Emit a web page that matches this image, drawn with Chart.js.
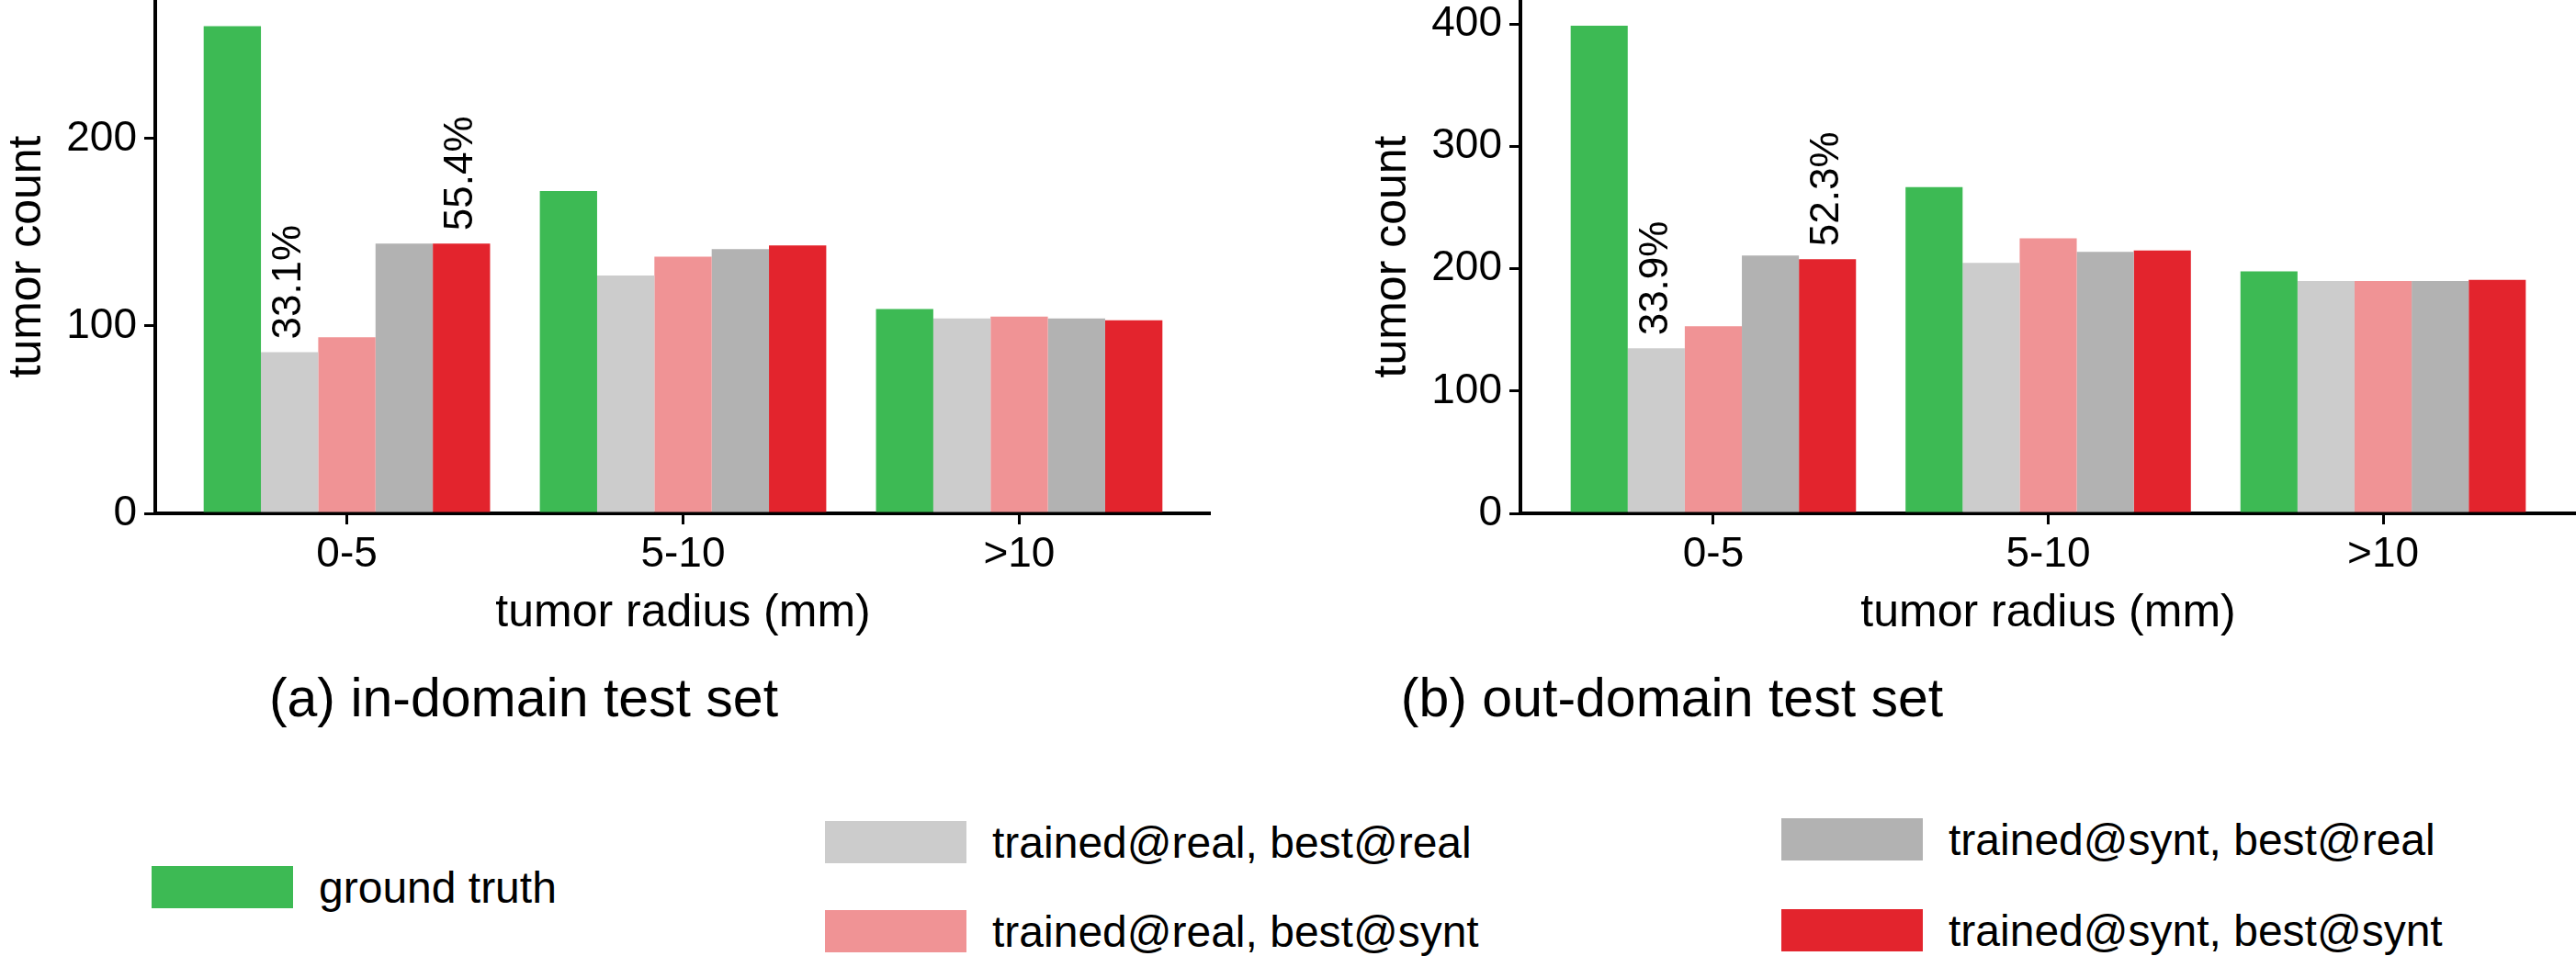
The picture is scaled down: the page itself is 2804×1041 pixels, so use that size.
<!DOCTYPE html>
<html><head><meta charset="utf-8">
<script src="https://cdn.jsdelivr.net/npm/chart.js@4"></script>
<style>
body{margin:0;width:2804px;height:1041px;background:#fff;position:relative;overflow:hidden;font-family:"Liberation Sans",Arial,sans-serif;}
.box{position:absolute;top:0;height:700px;}
.t{position:absolute;white-space:nowrap;color:#000;}
.sw{position:absolute;width:154px;height:46px;}
</style></head><body>
<div class="box" style="left:0;width:1318px"><canvas id="c1"></canvas></div>
<div class="box" style="left:1486px;width:1318px"><canvas id="c2"></canvas></div>
<div class="t" style="left:570px;top:760px;transform:translate(-50%,-50%);font-size:59px">(a) in-domain test set</div>
<div class="t" style="left:1820px;top:760px;transform:translate(-50%,-50%);font-size:59px">(b) out-domain test set</div>
<div id="legend"></div>
<script>
const categories = ['0-5', '5-10', '>10'];
const seriesNames = ['ground truth', 'trained@real, best@real', 'trained@real, best@synt', 'trained@synt, best@real', 'trained@synt, best@synt'];
const colors = ['#3dba54', '#cccccc', '#f09395', '#b2b2b2', '#e3242d'];
// in-domain
const inGT = [260, 172, 109];
const inRealReal = [86, 127, 104];
const inRealSynt = [94, 137, 105];
const inSyntReal = [144, 141, 104];
const inSyntSynt = [144, 143, 103];
// out-domain
const outGT = [399, 267, 198];
const outRealReal = [135, 205, 190];
const outRealSynt = [153, 225, 190];
const outSyntReal = [211, 214, 190];
const outSyntSynt = [208, 215, 191];
// percentage annotations: [dataset index, category index, text]
const inAnnot = [[1, 0, '33.1%'], [4, 0, '55.4%']];
const outAnnot = [[1, 0, '33.9%'], [4, 0, '52.3%']];
const inYTicks = [0, 100, 200];
const outYTicks = [0, 100, 200, 300, 400];

const FONT = '"Liberation Sans", Arial, sans-serif';
const annotPlugin = {
  id: 'annot',
  afterDatasetsDraw(chart) {
    const ctx = chart.ctx;
    (chart.options.plugins.annot.items || []).forEach(([di, ci, txt]) => {
      const el = chart.getDatasetMeta(di).data[ci];
      ctx.save();
      ctx.translate(el.x, el.y - 14);
      ctx.rotate(-Math.PI / 2);
      ctx.font = '44px ' + FONT;
      ctx.fillStyle = '#000';
      ctx.textAlign = 'left';
      ctx.textBaseline = 'middle';
      ctx.fillText(txt, 0, 0);
      ctx.restore();
    });
  }
};

function makeChart(id, series, ymax, yticks, xr, annot) {
  const data = series.map((vals, i) => ({
    label: seriesNames[i],
    data: vals.map((v, j) => ({ x: j, y: v })),
    backgroundColor: colors[i],
    borderWidth: 0,
    categoryPercentage: 0.852,
    barPercentage: 1.0
  }));
  new Chart(document.getElementById(id), {
    type: 'bar',
    data: { datasets: data },
    plugins: [annotPlugin],
    options: {
      responsive: true, maintainAspectRatio: false, animation: false,
      layout: { padding: 0 },
      plugins: { legend: { display: false }, tooltip: { enabled: false }, annot: { items: annot } },
      scales: {
        x: {
          type: 'linear', offset: false, min: -xr, max: 2 + xr,
          afterBuildTicks: s => { s.ticks = [0, 1, 2].map(v => ({ value: v })); },
          afterFit: s => { s.height = 141; s.paddingLeft = 0; s.paddingRight = 0; s.paddingTop = 0; s.paddingBottom = 0; },
          ticks: { callback: v => categories[v], color: '#000', font: { size: 46, family: FONT }, padding: 6, maxRotation: 0, autoSkip: false },
          grid: { offset: false, drawOnChartArea: false, drawTicks: true, tickLength: 12, color: '#000', lineWidth: 3 },
          border: { display: true, color: '#000', width: 4 },
          title: { display: true, text: 'tumor radius (mm)', color: '#000', font: { size: 50, family: FONT }, padding: { top: 0, bottom: 2 } }
        },
        y: {
          min: 0, max: ymax,
          afterBuildTicks: s => { s.ticks = yticks.map(v => ({ value: v })); },
          afterFit: s => { s.width = 169; s.paddingTop = 0; s.paddingBottom = 0; s.paddingLeft = 0; s.paddingRight = 0; },
          ticks: { color: '#000', font: { size: 46, family: FONT }, padding: 8 },
          grid: { drawOnChartArea: false, drawTicks: true, tickLength: 12, color: '#000', lineWidth: 3 },
          border: { display: true, color: '#000', width: 4 },
          title: { display: true, text: 'tumor count', color: '#000', font: { size: 50, family: FONT }, padding: 0 }
        }
      }
    }
  });
}
makeChart('c1', [inGT, inRealReal, inRealSynt, inSyntReal, inSyntSynt], 274, inYTicks, 0.570, inAnnot);
makeChart('c2', [outGT, outRealReal, outRealSynt, outSyntReal, outSyntSynt], 420, outYTicks, 0.576, outAnnot);

// legend
const legPos = [[165, 943], [898, 894], [898, 991], [1939, 891], [1939, 990]];
const lg = document.getElementById('legend');
seriesNames.forEach((n, i) => {
  const [x, y] = legPos[i];
  const s = document.createElement('div');
  s.className = 'sw'; s.style.left = x + 'px'; s.style.top = y + 'px'; s.style.background = colors[i];
  lg.appendChild(s);
  const t = document.createElement('div');
  t.className = 't'; t.textContent = n; t.style.fontSize = '48px';
  t.style.left = (x + 182) + 'px'; t.style.top = (y + 23) + 'px'; t.style.transform = 'translateY(-50%)';
  lg.appendChild(t);
});
</script>
</body></html>
